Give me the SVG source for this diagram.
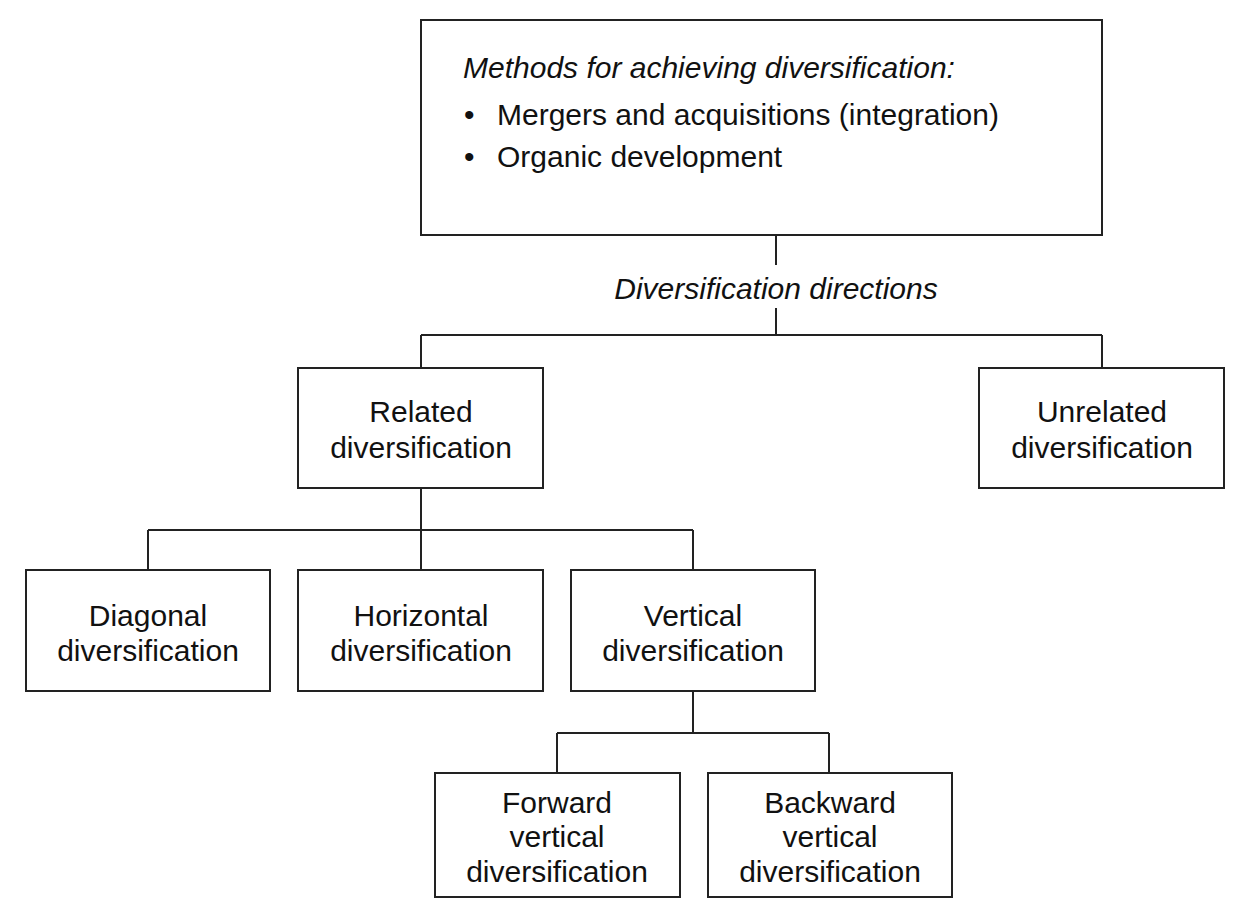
<svg xmlns="http://www.w3.org/2000/svg" width="1237" height="910" viewBox="0 0 1237 910">
<style>
rect{fill:#fff;stroke:#222;stroke-width:2}
line{stroke:#222;stroke-width:2}
text{font-family:"Liberation Sans",Arial,sans-serif;font-size:30px;fill:#111}
.c{text-anchor:middle}
.i{font-style:italic}
</style>
<rect width="1237" height="910" style="stroke:none"/>
<g id="connectors">
<line x1="776" y1="235" x2="776" y2="265"/>
<line x1="776" y1="308" x2="776" y2="335"/>
<line x1="421" y1="335" x2="1102" y2="335"/>
<line x1="421" y1="335" x2="421" y2="368"/>
<line x1="1102" y1="335" x2="1102" y2="368"/>
<line x1="421" y1="488" x2="421" y2="530"/>
<line x1="148" y1="530" x2="693" y2="530"/>
<line x1="148" y1="530" x2="148" y2="570"/>
<line x1="421" y1="530" x2="421" y2="570"/>
<line x1="693" y1="530" x2="693" y2="570"/>
<line x1="693" y1="691" x2="693" y2="733"/>
<line x1="557" y1="733" x2="829" y2="733"/>
<line x1="557" y1="733" x2="557" y2="773"/>
<line x1="829" y1="733" x2="829" y2="773"/>
<text class="c i" x="776" y="299">Diversification directions</text>
</g>
<g id="methods">
<rect x="421" y="20" width="681" height="215"/>
<text class="i" x="463" y="78">Methods for achieving diversification:</text>
<text x="464" y="125">•</text><text x="497" y="125">Mergers and acquisitions (integration)</text>
<text x="464" y="167">•</text><text x="497" y="167">Organic development</text>
</g>
<g id="related"><rect x="298" y="368" width="245" height="120"/>
<text class="c" x="421" y="422">Related</text><text class="c" x="421" y="458">diversification</text></g>
<g id="unrelated"><rect x="979" y="368" width="245" height="120"/>
<text class="c" x="1102" y="422">Unrelated</text><text class="c" x="1102" y="458">diversification</text></g>
<g id="diagonal"><rect x="26" y="570" width="244" height="121"/>
<text class="c" x="148" y="626">Diagonal</text><text class="c" x="148" y="661">diversification</text></g>
<g id="horizontal"><rect x="298" y="570" width="245" height="121"/>
<text class="c" x="421" y="626">Horizontal</text><text class="c" x="421" y="661">diversification</text></g>
<g id="vertical"><rect x="571" y="570" width="244" height="121"/>
<text class="c" x="693" y="626">Vertical</text><text class="c" x="693" y="661">diversification</text></g>
<g id="forward"><rect x="435" y="773" width="245" height="124"/>
<text class="c" x="557" y="813">Forward</text><text class="c" x="557" y="847">vertical</text><text class="c" x="557" y="882">diversification</text></g>
<g id="backward"><rect x="708" y="773" width="244" height="124"/>
<text class="c" x="830" y="813">Backward</text><text class="c" x="830" y="847">vertical</text><text class="c" x="830" y="882">diversification</text></g>
</svg>
